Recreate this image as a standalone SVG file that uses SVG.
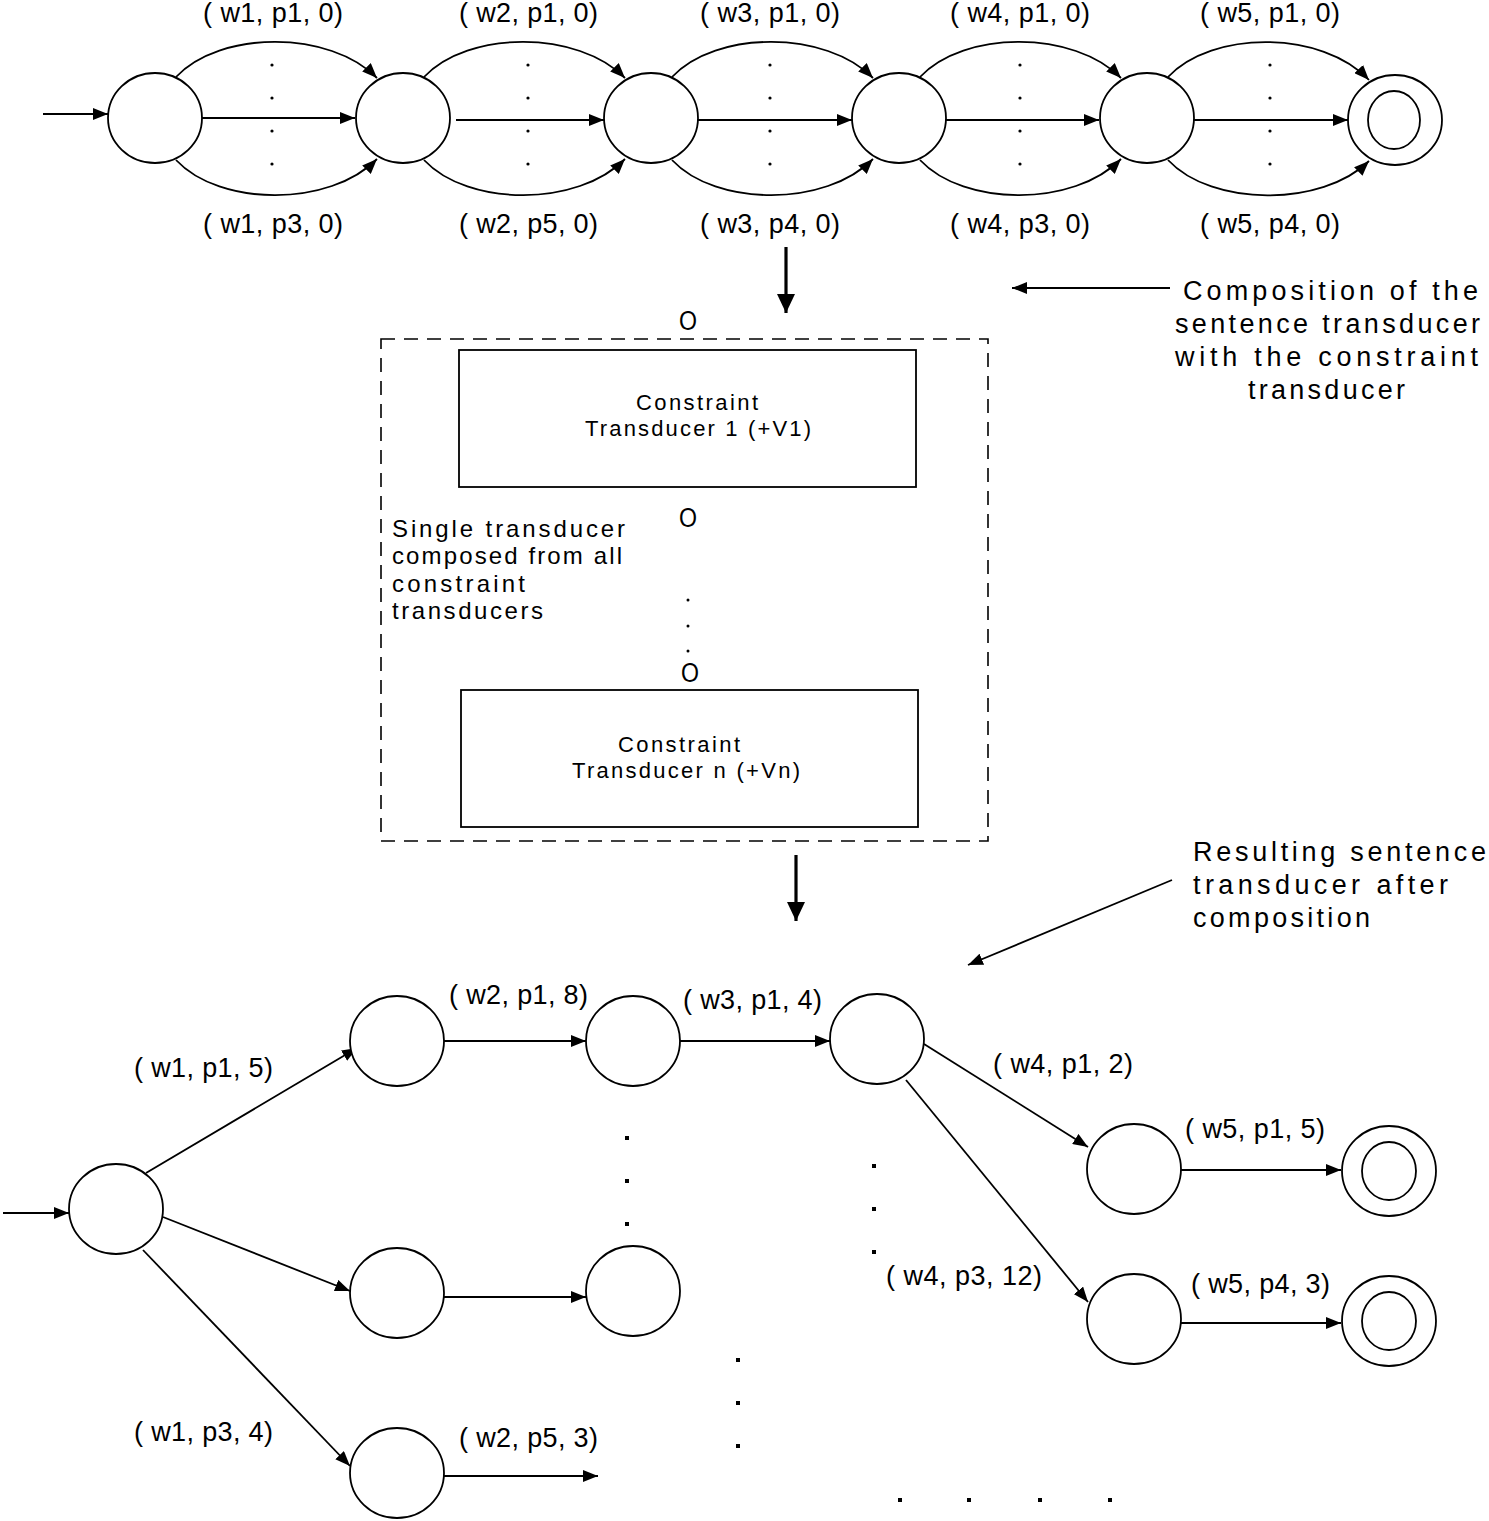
<svg xmlns="http://www.w3.org/2000/svg" width="1489" height="1521" viewBox="0 0 1489 1521">
<style>
.st{fill:#fff;stroke:#000;stroke-width:1.8}
.ed{fill:none;stroke:#000;stroke-width:1.8;marker-end:url(#ah)}
.tk{fill:none;stroke:#000;stroke-width:3.2;marker-end:url(#ahb)}
.lb{font-family:"Liberation Sans",Arial,sans-serif;font-size:27px;fill:#000}
.nt{font-family:"Liberation Sans",Arial,sans-serif;font-size:27px;fill:#000}
.bx{font-family:"Liberation Sans",Arial,sans-serif;font-size:22px;fill:#000}
.sm{font-family:"Liberation Sans",Arial,sans-serif;font-size:24px;fill:#000}
.op{font-family:"Liberation Sans",Arial,sans-serif;font-size:27px;fill:#000}
.dt{fill:#000}
</style>
<defs>
<marker id="ah" markerUnits="userSpaceOnUse" markerWidth="16" markerHeight="12" refX="15" refY="6" orient="auto"><path d="M0,0 L15,6 L0,12 z" fill="#000"/></marker>
<marker id="ahb" markerUnits="userSpaceOnUse" markerWidth="20" markerHeight="20" refX="19" refY="9" orient="auto"><path d="M0,0 L19,9 L0,18 z" fill="#000"/></marker>
</defs>

<!-- connectors -->
<g id="connectors">
<!-- top row -->
<line class="ed" x1="43" y1="114" x2="108" y2="114"/>
<path class="ed" d="M176,77 C220,30 330,30 377,78"/>
<line class="ed" x1="202" y1="118" x2="355" y2="118"/>
<path class="ed" d="M176,160 C220,207 330,207 377,159"/>
<path class="ed" d="M424,77 C468,30 578,30 625,78"/>
<line class="ed" x1="456" y1="120" x2="604" y2="120"/>
<path class="ed" d="M424,160 C468,207 578,207 625,159"/>
<path class="ed" d="M672,77 C716,30 826,30 873,78"/>
<line class="ed" x1="698" y1="120" x2="852" y2="120"/>
<path class="ed" d="M672,160 C716,207 826,207 873,159"/>
<path class="ed" d="M920,77 C964,30 1074,30 1121,78"/>
<line class="ed" x1="946" y1="120" x2="1099" y2="120"/>
<path class="ed" d="M920,160 C964,207 1074,207 1121,159"/>
<path class="ed" d="M1168,77 C1212,30 1322,30 1369,80"/>
<line class="ed" x1="1194" y1="120" x2="1348" y2="120"/>
<path class="ed" d="M1168,160 C1212,207 1322,207 1369,161"/>
<!-- middle -->
<line class="tk" x1="786" y1="247" x2="786" y2="313"/>
<line class="ed" x1="1170" y1="288" x2="1012" y2="288"/>
<line class="tk" x1="796" y1="855" x2="796" y2="921"/>
<line class="ed" x1="1172" y1="880" x2="968" y2="965"/>
<!-- bottom -->
<line class="ed" x1="3" y1="1213" x2="69" y2="1213"/>
<line class="ed" x1="146" y1="1173" x2="357" y2="1048"/>
<line class="ed" x1="163" y1="1217" x2="350" y2="1291"/>
<line class="ed" x1="143" y1="1250" x2="350" y2="1466"/>
<line class="ed" x1="444" y1="1041" x2="586" y2="1041"/>
<line class="ed" x1="680" y1="1041" x2="830" y2="1041"/>
<line class="ed" x1="924" y1="1044" x2="1088" y2="1147"/>
<line class="ed" x1="906" y1="1080" x2="1088" y2="1302"/>
<line class="ed" x1="1181" y1="1170" x2="1341" y2="1170"/>
<line class="ed" x1="1181" y1="1323" x2="1341" y2="1323"/>
<line class="ed" x1="444" y1="1297" x2="586" y2="1297"/>
<line class="ed" x1="444" y1="1476" x2="598" y2="1476"/>
</g>

<!-- top row nodes -->
<g id="t1"><ellipse class="st" cx="155" cy="118" rx="47" ry="45"/></g>
<g id="t2"><ellipse class="st" cx="403" cy="118" rx="47" ry="45"/></g>
<g id="t3"><ellipse class="st" cx="651" cy="118" rx="47" ry="45"/></g>
<g id="t4"><ellipse class="st" cx="899" cy="118" rx="47" ry="45"/></g>
<g id="t5"><ellipse class="st" cx="1147" cy="118" rx="47" ry="45"/></g>
<g id="t6"><ellipse class="st" cx="1395" cy="120" rx="47" ry="45"/><ellipse class="st" cx="1394" cy="120" rx="26" ry="29"/></g>

<!-- top labels -->
<g id="top-labels">
<text class="lb" x="203" y="22" textLength="140" lengthAdjust="spacing">( w1, p1, 0)</text>
<text class="lb" x="459" y="22" textLength="139" lengthAdjust="spacing">( w2, p1, 0)</text>
<text class="lb" x="700" y="22" textLength="140" lengthAdjust="spacing">( w3, p1, 0)</text>
<text class="lb" x="950" y="22" textLength="140" lengthAdjust="spacing">( w4, p1, 0)</text>
<text class="lb" x="1200" y="22" textLength="140" lengthAdjust="spacing">( w5, p1, 0)</text>
<text class="lb" x="203" y="233" textLength="140" lengthAdjust="spacing">( w1, p3, 0)</text>
<text class="lb" x="459" y="233" textLength="139" lengthAdjust="spacing">( w2, p5, 0)</text>
<text class="lb" x="700" y="233" textLength="140" lengthAdjust="spacing">( w3, p4, 0)</text>
<text class="lb" x="950" y="233" textLength="140" lengthAdjust="spacing">( w4, p3, 0)</text>
<text class="lb" x="1200" y="233" textLength="140" lengthAdjust="spacing">( w5, p4, 0)</text>
</g>
<g id="top-dots" class="dt">
<circle cx="272" cy="65" r="1.6"/><circle cx="272" cy="98" r="1.6"/><circle cx="272" cy="131" r="1.6"/><circle cx="272" cy="164" r="1.6"/>
<circle cx="528" cy="65" r="1.6"/><circle cx="528" cy="98" r="1.6"/><circle cx="528" cy="131" r="1.6"/><circle cx="528" cy="164" r="1.6"/>
<circle cx="770" cy="65" r="1.6"/><circle cx="770" cy="98" r="1.6"/><circle cx="770" cy="131" r="1.6"/><circle cx="770" cy="164" r="1.6"/>
<circle cx="1020" cy="65" r="1.6"/><circle cx="1020" cy="98" r="1.6"/><circle cx="1020" cy="131" r="1.6"/><circle cx="1020" cy="164" r="1.6"/>
<circle cx="1270" cy="65" r="1.6"/><circle cx="1270" cy="98" r="1.6"/><circle cx="1270" cy="131" r="1.6"/><circle cx="1270" cy="164" r="1.6"/>
</g>

<!-- composition note -->
<g id="note-composition">
<text class="nt" x="1183" y="300" textLength="295" lengthAdjust="spacing">Composition of the</text>
<text class="nt" x="1175" y="333" textLength="305" lengthAdjust="spacing">sentence transducer</text>
<text class="nt" x="1175" y="366" textLength="303" lengthAdjust="spacing">with the constraint</text>
<text class="nt" x="1248" y="399" textLength="157" lengthAdjust="spacing">transducer</text>
</g>

<!-- composed transducer box -->
<g id="composed">
<rect x="381" y="339" width="607" height="502" fill="none" stroke="#000" stroke-width="1.6" stroke-dasharray="14,9"/>
<text class="op" x="679" y="330" textLength="18" lengthAdjust="spacingAndGlyphs">O</text>
<text class="sm" x="392" y="537" textLength="233" lengthAdjust="spacing">Single transducer</text>
<text class="sm" x="392" y="564" textLength="230" lengthAdjust="spacing">composed from all</text>
<text class="sm" x="392" y="592" textLength="133" lengthAdjust="spacing">constraint</text>
<text class="sm" x="392" y="619" textLength="151" lengthAdjust="spacing">transducers</text>
<text class="op" x="679" y="527" textLength="18" lengthAdjust="spacingAndGlyphs">O</text>
<circle class="dt" cx="688" cy="600" r="1.5"/><circle class="dt" cx="688" cy="626" r="1.5"/><circle class="dt" cx="688" cy="651" r="1.5"/>
<text class="op" x="681" y="682" textLength="18" lengthAdjust="spacingAndGlyphs">O</text>
</g>
<g id="ct1">
<rect x="459" y="350" width="457" height="137" fill="#fff" stroke="#000" stroke-width="1.8"/>
<text class="bx" x="636" y="410" textLength="122" lengthAdjust="spacing">Constraint</text>
<text class="bx" x="585" y="436" textLength="226" lengthAdjust="spacing">Transducer 1 (+V1)</text>
</g>
<g id="ctn">
<rect x="461" y="690" width="457" height="137" fill="#fff" stroke="#000" stroke-width="1.8"/>
<text class="bx" x="618" y="752" textLength="122" lengthAdjust="spacing">Constraint</text>
<text class="bx" x="572" y="778" textLength="228" lengthAdjust="spacing">Transducer n (+Vn)</text>
</g>

<!-- resulting note -->
<g id="note-result">
<text class="nt" x="1193" y="861" textLength="293" lengthAdjust="spacing">Resulting sentence</text>
<text class="nt" x="1193" y="894" textLength="255" lengthAdjust="spacing">transducer after</text>
<text class="nt" x="1193" y="927" textLength="177" lengthAdjust="spacing">composition</text>
</g>

<!-- bottom nodes -->
<g id="b0"><ellipse class="st" cx="116" cy="1209" rx="47" ry="45"/></g>
<g id="b1"><ellipse class="st" cx="397" cy="1041" rx="47" ry="45"/></g>
<g id="b2"><ellipse class="st" cx="633" cy="1041" rx="47" ry="45"/></g>
<g id="b3"><ellipse class="st" cx="877" cy="1039" rx="47" ry="45"/></g>
<g id="b4"><ellipse class="st" cx="1134" cy="1169" rx="47" ry="45"/></g>
<g id="b5"><ellipse class="st" cx="1389" cy="1171" rx="47" ry="45"/><ellipse class="st" cx="1389" cy="1171" rx="27" ry="29"/></g>
<g id="b6"><ellipse class="st" cx="1134" cy="1319" rx="47" ry="45"/></g>
<g id="b7"><ellipse class="st" cx="1389" cy="1321" rx="47" ry="45"/><ellipse class="st" cx="1389" cy="1321" rx="27" ry="29"/></g>
<g id="b8"><ellipse class="st" cx="397" cy="1293" rx="47" ry="45"/></g>
<g id="b9"><ellipse class="st" cx="633" cy="1291" rx="47" ry="45"/></g>
<g id="b10"><ellipse class="st" cx="397" cy="1473" rx="47" ry="45"/></g>

<!-- bottom labels -->
<g id="bottom-labels">
<text class="lb" x="134" y="1077" textLength="139" lengthAdjust="spacing">( w1, p1, 5)</text>
<text class="lb" x="449" y="1004" textLength="139" lengthAdjust="spacing">( w2, p1, 8)</text>
<text class="lb" x="683" y="1009" textLength="139" lengthAdjust="spacing">( w3, p1, 4)</text>
<text class="lb" x="993" y="1073" textLength="140" lengthAdjust="spacing">( w4, p1, 2)</text>
<text class="lb" x="1185" y="1138" textLength="140" lengthAdjust="spacing">( w5, p1, 5)</text>
<text class="lb" x="886" y="1285" textLength="156" lengthAdjust="spacing">( w4, p3, 12)</text>
<text class="lb" x="1191" y="1293" textLength="139" lengthAdjust="spacing">( w5, p4, 3)</text>
<text class="lb" x="134" y="1441" textLength="139" lengthAdjust="spacing">( w1, p3, 4)</text>
<text class="lb" x="459" y="1447" textLength="139" lengthAdjust="spacing">( w2, p5, 3)</text>
</g>
<g id="bottom-dots" class="dt">
<rect x="625" y="1136" width="4" height="4"/><rect x="625" y="1179" width="4" height="4"/><rect x="625" y="1222" width="4" height="4"/>
<rect x="872" y="1164" width="4" height="4"/><rect x="872" y="1207" width="4" height="4"/><rect x="872" y="1250" width="4" height="4"/>
<rect x="736" y="1358" width="4" height="4"/><rect x="736" y="1401" width="4" height="4"/><rect x="736" y="1444" width="4" height="4"/>
<rect x="898" y="1498" width="4" height="4"/><rect x="967" y="1498" width="4" height="4"/><rect x="1038" y="1498" width="4" height="4"/><rect x="1108" y="1498" width="4" height="4"/>
</g>
</svg>
